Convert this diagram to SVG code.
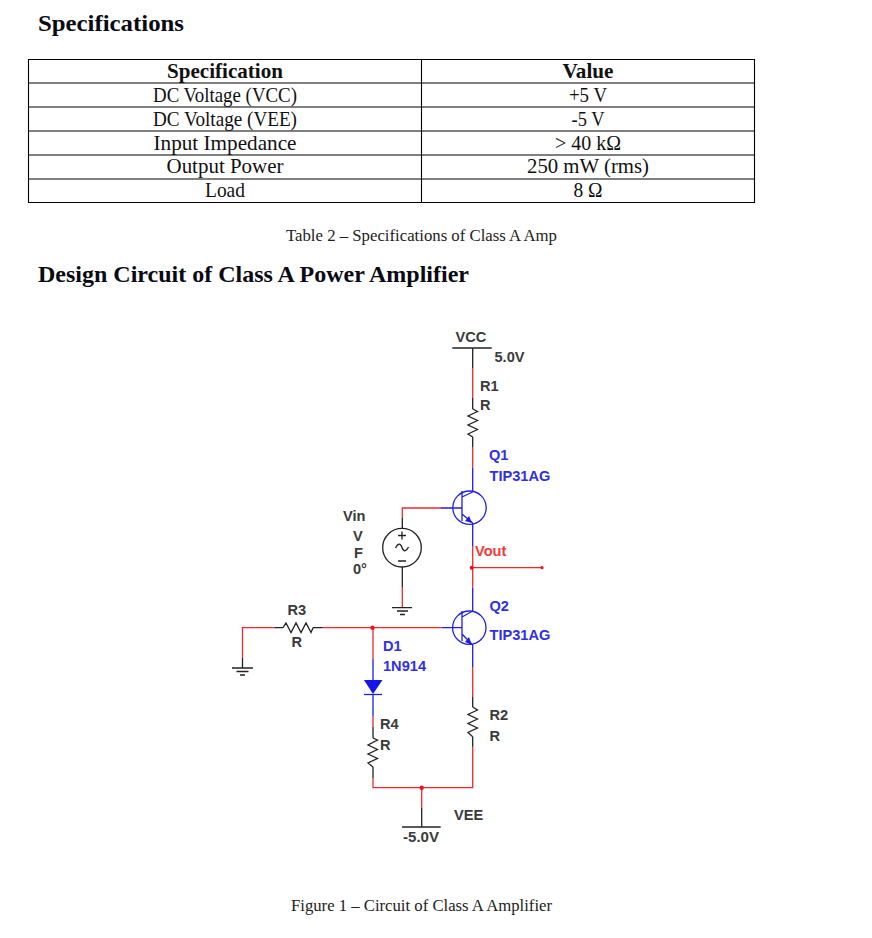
<svg xmlns="http://www.w3.org/2000/svg" width="872" height="938" viewBox="0 0 872 938">
<style>
text{font-family:"Liberation Serif","DejaVu Serif",serif;fill:#111}
.h{font-size:24px;font-weight:700;fill:#0a0a14}
.th{font-size:21px;font-weight:700;text-anchor:middle}
.td{font-size:21px;text-anchor:middle}
.cap{font-size:16.5px;fill:#222}
.grid{stroke:#000;stroke-width:1.1;fill:none}
.l{font-family:"Liberation Sans",Arial,sans-serif;font-size:14.6px;font-weight:700;fill:#3a3a3a}
.b{fill:#2f2fe6}.o{fill:#f03a3a}
.r,.k,.u{fill:none;stroke-width:1.3}
.r{stroke:#f0282d}.k{stroke:#222}.u{stroke:#1e1ee6}
.dot{fill:#e8141e}
</style>
<rect width="872" height="938" fill="#fff"/>
<text class="h" x="38" y="31" textLength="146" lengthAdjust="spacingAndGlyphs">Specifications</text>
<g id="table">
<path class="grid" d="M28.5 59.500H754.500V202.500H28.5ZM28.5 83H754.500M28.5 107H754.500M28.5 131H754.500M28.5 155H754.500M28.5 179H754.500M421.500 59.500V202.500"/>
<text class="th" x="225" y="78" textLength="116" lengthAdjust="spacingAndGlyphs">Specification</text>
<text class="th" x="588" y="78" textLength="51" lengthAdjust="spacingAndGlyphs">Value</text>
<text class="td" x="225" y="102" textLength="144" lengthAdjust="spacingAndGlyphs">DC Voltage (VCC)</text>
<text class="td" x="588" y="102" textLength="38" lengthAdjust="spacingAndGlyphs">+5 V</text>
<text class="td" x="225" y="126" textLength="144" lengthAdjust="spacingAndGlyphs">DC Voltage (VEE)</text>
<text class="td" x="588" y="126" textLength="33" lengthAdjust="spacingAndGlyphs">-5 V</text>
<text class="td" x="225" y="150" textLength="143" lengthAdjust="spacingAndGlyphs">Input Impedance</text>
<text class="td" x="588" y="150" textLength="66" lengthAdjust="spacingAndGlyphs">&gt; 40 kΩ</text>
<text class="td" x="225" y="173" textLength="117" lengthAdjust="spacingAndGlyphs">Output Power</text>
<text class="td" x="588" y="173" textLength="122" lengthAdjust="spacingAndGlyphs">250 mW (rms)</text>
<text class="td" x="225" y="197" textLength="40" lengthAdjust="spacingAndGlyphs">Load</text>
<text class="td" x="588" y="197" textLength="29" lengthAdjust="spacingAndGlyphs">8 Ω</text>
</g>
<text class="cap" x="286" y="241" textLength="271" lengthAdjust="spacingAndGlyphs">Table 2 – Specifications of Class A Amp</text>
<text class="h" x="38" y="282" textLength="431" lengthAdjust="spacingAndGlyphs">Design Circuit of Class A Power Amplifier</text>
<text class="cap" x="291" y="911" textLength="261" lengthAdjust="spacingAndGlyphs">Figure 1 – Circuit of Class A Amplifier</text>

<g id="connectors">
<path class="r" d="M472.700 368V398M472.700 447V468"/>
<path class="k" d="M472.700 348V368M472.700 398V409M472.700 437V447"/>
<path class="u" d="M472.700 468V492M472.700 523V546.700"/>
<path class="r" d="M472.700 546.700V587.700M472.700 567.700H542"/>
<path class="u" d="M472.700 587.700V611M472.700 645V667"/>
<path class="r" d="M472.700 667V697M472.700 746.700V787.700H373V778M373 716.700V727"/>
<path class="k" d="M472.700 697V707M472.700 736.700V746.700M373 727V738M373 767V778"/>
<path class="r" d="M402.300 518V508H441M402.300 587V607"/>
<path class="u" d="M441 508H462M441.700 627.700H462M373 659V680M373 694V716.700"/>
<path class="k" d="M402.300 518V528M402.300 567V587"/>
<path class="r" d="M242.500 658V627.700H274.300M322 627.700H441.700M373 627.700V659"/>
<path class="k" d="M242.500 658V668M274.300 627.700H283M313 627.700H322"/>
<path class="r" d="M421.700 787.700V808"/>
<path class="k" d="M421.700 808V827"/>
<circle class="dot" cx="372.500" cy="627.700" r="2.200"/>
<circle class="dot" cx="421.700" cy="787.700" r="2.200"/>
<circle class="dot" cx="471.700" cy="567.700" r="2"/>
<circle class="dot" cx="542" cy="567.700" r="1.600"/>
</g>

<g id="VCC"><path class="k" d="M452.300 348H491.700"/><text class="l" x="455.500" y="342">VCC</text><text class="l" x="494.500" y="362">5.0V</text></g>
<g id="R1"><path class="k" d="M472.700 409L477.500 411.500L468 416L477.500 420.500L468 425L477.500 429.500L468 434L472.700 437"/><text class="l" x="480" y="391">R1</text><text class="l" x="480" y="410">R</text></g>
<g id="Q1"><circle class="u" cx="469.500" cy="507.700" r="16.700"/><path class="u" d="M462 491V521M462 497L472.700 492M462 514L472.700 523"/><path d="M472 523L465 521L469 516Z" fill="#1e1ee6"/><text class="l b" x="489" y="460">Q1</text><text class="l b" x="489.500" y="481">TIP31AG</text></g>
<g id="Vin"><circle class="k" cx="402" cy="547.700" r="19.300"/><path class="k" d="M398 535.500H406M402 531.500V539.500M398 561H406M395.500 548C398 543 400.500 543 402 547.500S406 552 408.500 547"/><text class="l" x="343" y="521">Vin</text><text class="l" x="353" y="541">V</text><text class="l" x="354" y="558">F</text><text class="l" x="353" y="574">0°</text></g>
<g id="GND1"><path class="k" d="M392 607.700H412M397 611H408M400 614.500H405"/></g>
<g id="Vout"><text class="l o" x="475" y="556">Vout</text></g>
<g id="Q2"><circle class="u" cx="469.300" cy="627.700" r="16.700"/><path class="u" d="M462 611V641M462 617L472.700 611M462 634L472.700 645"/><path d="M472 645L465 642L469 637Z" fill="#1e1ee6"/><text class="l b" x="489.500" y="611">Q2</text><text class="l b" x="489.500" y="640">TIP31AG</text></g>
<g id="R3"><path class="k" d="M283 627.700L286 623L291 632.500L296 623L301 632.500L306 623L311 632.500L313 627.700"/><text class="l" x="287.500" y="615">R3</text><text class="l" x="291.500" y="647">R</text></g>
<g id="GND2"><path class="k" d="M232 668H253M236.500 671.500H248.500M240 675H245"/></g>
<g id="D1"><path d="M364 680H382.500L373 694Z" fill="#1414e6"/><path class="u" d="M364 694.500H382"/><text class="l b" x="383" y="651">D1</text><text class="l b" x="383" y="671">1N914</text></g>
<g id="R4"><path class="k" d="M373 738L377.500 740L368 745L377.500 749.500L368 754L377.500 758.500L368 763L373 767"/><text class="l" x="380" y="729">R4</text><text class="l" x="380" y="750">R</text></g>
<g id="R2"><path class="k" d="M472.700 707L477.500 710L468 714.500L477.500 719L468 723.500L477.500 728L468 732.500L472.700 736.700"/><text class="l" x="489.500" y="720">R2</text><text class="l" x="489.500" y="741">R</text></g>
<g id="VEE"><path class="k" d="M402 827H440.700"/><text class="l" x="454" y="820">VEE</text><text class="l" x="403" y="842" textLength="36" lengthAdjust="spacingAndGlyphs">-5.0V</text></g>
</svg>
